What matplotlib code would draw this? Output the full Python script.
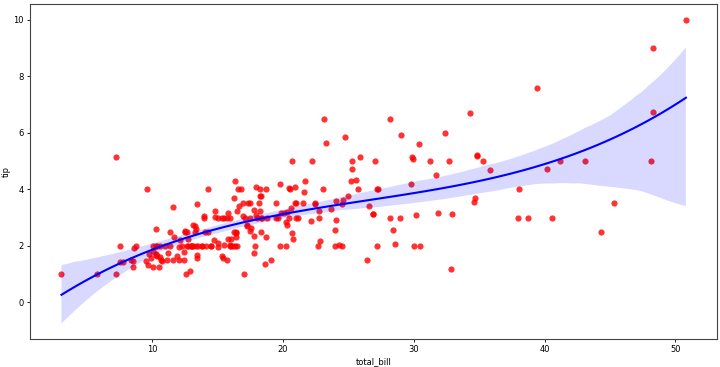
import matplotlib
matplotlib.use('Agg')
import matplotlib.pyplot as plt
import seaborn as sns
import numpy as np
import pandas as pd

# tips data (total_bill, tip)
total_bill = [16.99, 10.34, 21.01, 23.68, 24.59, 25.29, 8.77, 26.88, 15.04, 14.78,
              10.27, 35.26, 15.42, 18.43, 14.83, 21.58, 10.33, 16.29, 16.97, 20.65,
              17.92, 20.29, 15.77, 39.42, 19.82, 17.81, 13.37, 12.69, 21.7, 19.65,
              9.55, 18.35, 15.06, 20.69, 17.78, 24.06, 16.31, 16.93, 18.69, 31.27,
              16.04, 17.46, 13.94, 9.68, 30.4, 18.29, 22.23, 32.4, 28.55, 18.04,
              12.54, 10.29, 34.81, 9.94, 25.56, 19.49, 38.01, 26.41, 11.24, 48.27,
              20.29, 13.81, 11.02, 18.29, 17.59, 20.08, 16.45, 3.07, 20.23, 15.01,
              12.02, 17.07, 26.86, 25.28, 14.73, 10.51, 17.92, 27.2, 22.76, 17.29,
              19.44, 16.66, 10.07, 32.68, 15.98, 34.83, 13.03, 18.28, 24.71, 21.16,
              28.97, 22.49, 5.75, 16.32, 22.75, 40.17, 27.28, 12.03, 21.01, 12.46,
              11.35, 15.38, 44.3, 22.42, 20.92, 15.36, 20.49, 25.21, 18.24, 14.31,
              14.0, 7.25, 38.07, 23.95, 25.71, 17.31, 29.93, 10.65, 12.43, 24.08,
              11.69, 13.42, 14.26, 15.95, 12.48, 29.8, 8.52, 14.52, 11.38, 22.82,
              19.08, 20.27, 11.17, 12.26, 18.26, 8.51, 10.33, 14.15, 16.0, 13.16,
              17.47, 34.3, 41.19, 27.05, 16.43, 8.35, 18.64, 11.87, 9.78, 7.51,
              14.07, 13.13, 17.26, 24.55, 19.77, 29.85, 48.17, 25.0, 13.39, 16.49,
              21.5, 12.66, 16.21, 13.81, 17.51, 24.52, 20.76, 31.71, 10.59, 10.63,
              50.81, 15.81, 7.25, 31.85, 16.82, 32.9, 17.89, 14.48, 9.6, 34.63,
              34.65, 23.33, 45.35, 23.17, 40.55, 20.69, 20.9, 30.46, 18.15, 23.1,
              15.69, 19.81, 28.44, 15.48, 16.58, 7.56, 10.34, 43.11, 13.0, 13.51,
              18.71, 12.74, 13.0, 16.4, 20.53, 16.47, 26.59, 38.73, 24.27, 12.76,
              30.06, 25.89, 48.33, 13.27, 28.17, 12.9, 28.15, 11.59, 7.74, 30.14,
              12.16, 13.42, 8.58, 15.98, 13.42, 16.27, 10.09, 20.45, 13.28, 22.12,
              24.01, 15.69, 11.61, 10.77, 15.53, 10.07, 12.6, 32.83, 35.83, 29.03,
              27.18, 22.67, 17.82, 18.78]
tip = [1.01, 1.66, 3.5, 3.31, 3.61, 4.71, 2.0, 3.12, 1.96, 3.23,
       1.71, 5.0, 1.57, 3.0, 3.02, 3.92, 1.67, 3.71, 3.5, 3.35,
       4.08, 2.75, 2.23, 7.58, 3.18, 2.34, 2.0, 2.0, 4.3, 3.0,
       1.45, 2.5, 3.0, 2.45, 3.27, 3.6, 2.0, 3.07, 2.31, 5.0,
       2.24, 2.54, 3.06, 1.32, 5.6, 3.0, 5.0, 6.0, 2.05, 3.0,
       2.5, 2.6, 5.2, 1.56, 4.34, 3.51, 3.0, 1.5, 1.76, 6.73,
       3.21, 2.0, 1.98, 3.76, 2.64, 3.15, 2.47, 1.0, 2.01, 2.09,
       1.97, 3.0, 3.14, 5.0, 2.2, 1.25, 3.08, 4.0, 3.0, 2.71,
       3.0, 3.4, 1.83, 5.0, 2.03, 5.17, 2.0, 4.0, 5.85, 3.0,
       3.0, 3.5, 1.0, 4.3, 3.25, 4.73, 4.0, 1.5, 3.0, 1.5,
       2.5, 3.0, 2.5, 3.48, 4.08, 1.64, 4.06, 4.29, 3.76, 4.0,
       3.0, 1.0, 4.0, 2.55, 4.0, 3.5, 5.07, 1.5, 1.8, 2.92,
       2.31, 1.68, 2.5, 2.0, 2.52, 4.2, 1.48, 2.0, 2.0, 2.18,
       1.5, 2.83, 1.5, 2.0, 3.25, 1.25, 2.0, 2.0, 2.0, 2.75,
       3.5, 6.7, 5.0, 5.0, 2.3, 1.5, 1.36, 1.63, 1.73, 2.0,
       2.5, 2.0, 2.74, 2.0, 2.0, 5.14, 5.0, 3.75, 2.61, 2.0,
       3.5, 2.5, 2.0, 2.0, 3.0, 3.48, 2.24, 4.5, 1.61, 2.0,
       10.0, 3.16, 5.15, 3.18, 4.0, 3.11, 2.0, 2.0, 4.0, 3.55,
       3.68, 5.65, 3.5, 6.5, 3.0, 5.0, 3.5, 2.0, 3.5, 4.0,
       1.5, 4.19, 2.56, 2.02, 4.0, 1.44, 2.0, 5.0, 2.0, 2.0,
       4.0, 2.01, 2.0, 2.5, 4.0, 3.23, 3.41, 3.0, 2.03, 2.23,
       2.0, 5.16, 9.0, 2.5, 6.5, 1.1, 3.0, 1.5, 1.44, 3.09,
       2.2, 3.48, 1.92, 3.0, 1.58, 2.5, 2.0, 3.0, 2.72, 2.88,
       2.0, 3.0, 3.39, 1.47, 3.0, 1.25, 1.0, 1.17, 4.67, 5.92,
       2.0, 2.0, 1.75, 3.0]

tips = pd.DataFrame({'total_bill': total_bill, 'tip': tip})

plt.rcParams['font.size'] = 6
fig = plt.figure(figsize=(7.2, 3.67), dpi=100)
ax = fig.add_axes([0.042, 0.077, 0.954, 0.911])
sns.regplot(x='total_bill', y='tip', data=tips, order=3, ax=ax, seed=3,
            scatter_kws={'color': 'red', 'alpha': 0.8, 's': 20, 'linewidths': 0},
            line_kws={'color': 'blue', 'linewidth': 1.5})
ax.set_xticks([10, 20, 30, 40, 50])
ax.set_yticks([0, 2, 4, 6, 8, 10])
for s in ax.spines.values():
    s.set_linewidth(0.8)
    s.set_color('#444444')
ax.tick_params(length=2.5, width=0.6, labelsize=6, pad=2)
ax.set_xlabel('total_bill', labelpad=2)
ax.set_ylabel('tip', labelpad=2)
fig.savefig('out.png', dpi=100)
